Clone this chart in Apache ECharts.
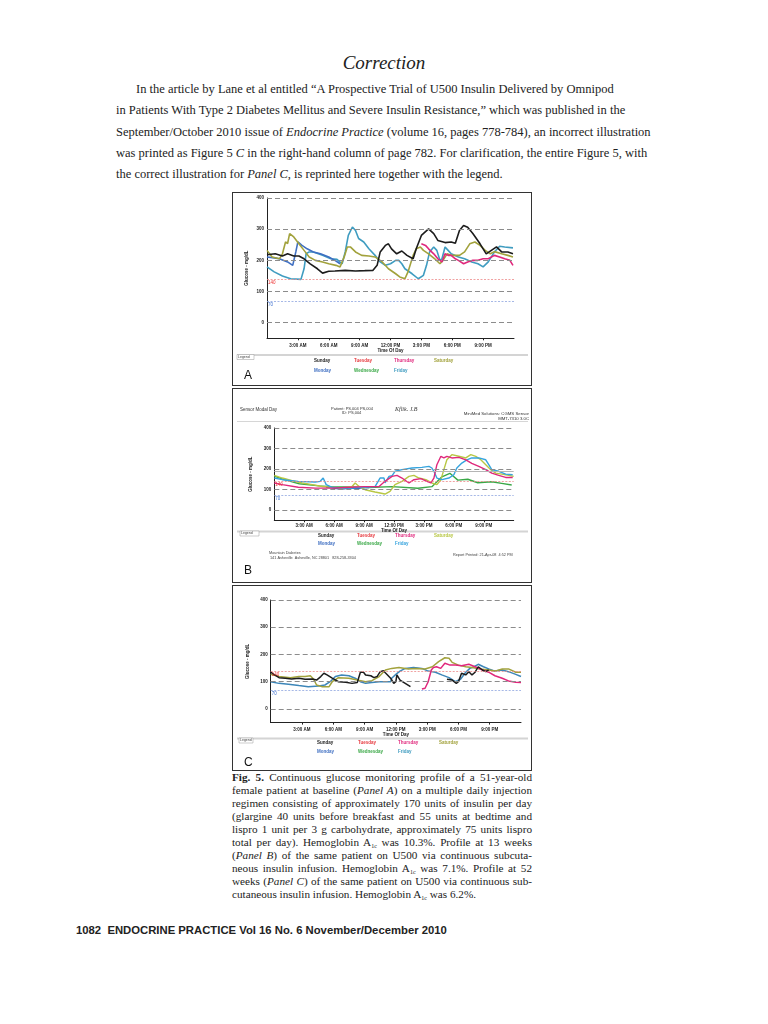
<!DOCTYPE html>
<html>
<head>
<meta charset="utf-8">
<script src="https://cdn.jsdelivr.net/npm/echarts@6/dist/echarts.min.js"></script>
<style>
  body { margin:0; width:768px; height:1024px; background:#fff; position:relative; overflow:hidden; color:#222; font-family:"Liberation Serif", serif; }
  .ln { position:absolute; white-space:nowrap; font-size:12.5px; line-height:16px; }
  .cap { position:absolute; left:232px; width:300px; font-size:11.2px; line-height:13px; white-space:nowrap; text-align:justify; text-align-last:justify; }
  .cap sub { font-size:6px; vertical-align:-2px; line-height:0; }
  .panel { position:absolute; left:232px; width:300px; box-sizing:border-box; border:1px solid #333; }
  .panel div.c { position:absolute; left:0; top:0; width:100%; height:100%; }
</style>
</head>
<body>

<div class="ln" style="left:0;width:768px;top:52px;text-align:center;font-size:19px;line-height:22px;font-style:italic;">Correction</div>

<div class="ln" style="left:136px;top:81px;">In the article by Lane et al entitled “A Prospective Trial of U500 Insulin Delivered by Omnipod</div>
<div class="ln" style="left:116px;top:102px;">in Patients With Type 2 Diabetes Mellitus and Severe Insulin Resistance,” which was published in the</div>
<div class="ln" style="left:116px;top:124px;">September/October 2010 issue of <i>Endocrine Practice</i> (volume 16, pages 778-784), an incorrect illustration</div>
<div class="ln" style="left:116px;top:145px;">was printed as Figure 5 <i>C</i> in the right-hand column of page 782. For clarification, the entire Figure 5, with</div>
<div class="ln" style="left:116px;top:166px;">the correct illustration for <i>Panel C</i>, is reprinted here together with the legend.</div>

<div class="panel" style="top:192px;height:194px;"><div class="c" id="panelA"></div></div>
<div class="panel" style="top:388px;height:195px;"><div class="c" id="panelB"></div></div>
<div class="panel" style="top:585px;height:186px;"><div class="c" id="panelC"></div></div>

<div class="cap" style="top:771px;"><b>Fig. 5.</b> Continuous glucose monitoring profile of a 51-year-old</div>
<div class="cap" style="top:784px;">female patient at baseline (<i>Panel A</i>) on a multiple daily injection</div>
<div class="cap" style="top:797px;">regimen consisting of approximately 170 units of insulin per day</div>
<div class="cap" style="top:810px;">(glargine 40 units before breakfast and 55 units at bedtime and</div>
<div class="cap" style="top:823px;">lispro 1 unit per 3 g carbohydrate, approximately 75 units lispro</div>
<div class="cap" style="top:836px;">total per day). Hemoglobin A<sub>1c</sub> was 10.3%. Profile at 13 weeks</div>
<div class="cap" style="top:849px;">(<i>Panel B</i>) of the same patient on U500 via continuous subcuta-</div>
<div class="cap" style="top:862px;">neous insulin infusion. Hemoglobin A<sub>1c</sub> was 7.1%. Profile at 52</div>
<div class="cap" style="top:875px;">weeks (<i>Panel C</i>) of the same patient on U500 via continuous sub-</div>
<div class="cap" style="top:888px;text-align:left;text-align-last:left;">cutaneous insulin infusion. Hemoglobin A<sub>1c</sub> was 6.2%.</div>

<div class="ln" style="left:76px;top:922px;font-family:'Liberation Sans',sans-serif;font-weight:bold;font-size:11.3px;">1082&nbsp; ENDOCRINE PRACTICE Vol 16 No. 6 November/December 2010</div>

<script>
// ---- data (hour of day, glucose mg/dL) ----
var tickHours = [3, 6, 9, 12, 15, 18, 21];
var tickLabels = ['3:00 AM', '6:00 AM', '9:00 AM', '12:00 PM', '3:00 PM', '6:00 PM', '9:00 PM'];
var gridValues = [0, 100, 200, 300, 400];
var targetHigh = 140;
var targetLow = 70;

var legendRow1 = ['Sunday', 'Tuesday', 'Thursday', 'Saturday'];
var legendRow2 = ['Monday', 'Wednesday', 'Friday'];
var dayColors = {
  Sunday: '#1c1c1c', Monday: '#3f6fc2', Tuesday: '#e63a3f', Wednesday: '#3aa847',
  Thursday: '#e0287c', Friday: '#3f9cc0', Saturday: '#a2a23c'
};

// panel A - baseline
var sunA = [[0,218],[0.8,221],[1.5,214],[2,221],[2.6,214],[3.1,214],[3.6,205],[4.2,189],[4.9,173],[5.4,159],[6,165],[6.6,166],[7.6,168],[8.6,166],[9.5,167],[10.3,168],[10.7,184],[11,227],[11.5,248],[11.8,253],[12.1,237],[12.6,221],[13.1,230],[13.6,216],[14.2,205],[14.5,237],[15,280],[15.7,301],[16.2,286],[16.6,264],[17.3,257],[17.9,259],[18.3,255],[18.7,296],[19.1,312],[19.5,306],[20,286],[20.7,253],[21.3,221],[21.8,232],[22.3,243],[22.8,227],[23.4,227],[23.9,221]];
var monA = [[0,211],[0.7,208],[1.2,205],[2,195],[2.5,184],[2.8,227],[3,259],[3.4,248],[3.9,237],[4.5,227],[5.2,221],[6,211],[6.6,200],[7.1,189]];
var thuA = [[15,253],[15.4,248],[15.7,237],[16.2,221],[16.6,205],[17,195],[17.3,221],[17.6,216],[17.9,216],[18.3,205],[18.6,200],[19.1,189],[19.5,195],[20,200],[20.5,200],[21,205],[21.5,205],[22.1,216],[22.6,211],[23.1,205],[23.6,200],[23.9,184]];
var friA = [[0,179],[0.7,163],[1.5,150],[2.3,141],[3.3,139],[3.6,173],[3.8,221],[4.1,227],[4.5,227],[5.4,216],[6.2,205],[6.8,203],[7.3,189],[7.6,227],[7.9,280],[8.3,307],[8.6,296],[8.9,270],[9.4,259],[9.9,237],[10.5,216],[11,195],[11.5,184],[12,189],[12.5,200],[12.8,200],[13.1,189],[13.4,173],[14.1,157],[14.7,141],[15.2,152],[15.5,184],[15.8,227],[16.2,243],[16.5,232],[16.8,200],[17,205],[17.3,243],[17.6,232],[17.9,221],[18.6,211],[19.2,205],[19.9,195],[20.5,189],[21,179],[21.5,195],[22.1,227],[22.6,245],[23.1,243],[23.9,240]];
var satA = [[0,232],[0.5,211],[1.2,205],[1.5,221],[1.8,259],[2,254],[2.2,286],[2.6,275],[3.1,253],[3.6,232],[4.1,211],[4.7,200],[5.4,195],[6,189],[6.7,184],[7.1,179],[7.5,211],[7.8,243],[8.1,243],[8.6,227],[9.2,216],[9.9,214],[10.5,211],[11.2,195],[11.8,173],[12.5,157],[12.9,147],[13.4,141],[13.7,163],[14.2,216],[14.5,237],[14.9,243],[15.2,232],[15.7,221],[16.3,205],[16.8,189],[17.1,200],[17.5,221],[17.9,216],[18.4,216],[18.7,216],[19.2,227],[19.7,253],[20.2,259],[20.7,248],[21.2,232],[21.7,221],[22.1,228],[22.8,221],[23.4,216],[23.9,211]];

// panel B - 13 weeks
var monB = [[5.2,112],[5.8,108],[6.4,104],[7,103],[7.6,108],[8.2,104],[8.9,110],[9.5,110]];
var wedB = [[0,165],[1,148],[2.5,128],[4.5,118],[6,112],[7.6,112],[9.5,110],[11.8,114],[14.4,106],[15.8,114],[16.8,162],[17.6,179],[18.4,146],[19.4,150],[20.4,133],[21.8,138],[22.8,130],[23.8,122]];
var thuB = [[0,132],[0.8,124],[2.4,111],[4.1,107],[5.8,107],[7.5,111],[9.1,114],[10.5,115],[11.1,140],[11.8,164],[12.3,169],[12.8,156],[13.5,132],[14,148],[14.7,153],[15.3,140],[15.7,132],[16,156],[16.3,221],[16.7,262],[17,254],[17.3,262],[17.8,254],[18.5,257],[19.2,245],[19.8,228],[20.5,213],[21.2,197],[21.8,180],[22.5,169],[23.2,159],[23.9,159]];
var friB = [[0,156],[0.8,148],[2.4,140],[4.1,137],[4.6,140],[4.9,156],[5.2,124],[5.8,111],[6.8,107],[7.8,107],[9.1,111],[10.1,114],[10.6,156],[11,156],[11.1,132],[11.5,164],[11.8,167],[12.1,189],[12.8,197],[13.8,205],[14.8,208],[15.5,213],[15.8,205],[16,189],[16.3,156],[16.8,148],[17.5,156],[18,172],[18.3,205],[18.8,229],[19.3,245],[19.8,254],[20.5,254],[21.2,245],[21.5,221],[21.8,197],[22.5,189],[23.2,175],[23.9,172]];
var satB = [[0,169],[0.8,156],[1.8,143],[2.8,132],[3.8,124],[4.8,115],[5.8,111],[6.8,107],[7.8,115],[8.1,132],[8.5,115],[9.1,99],[10.1,88],[11.1,78],[11.6,91],[12.1,124],[12.8,140],[13.5,164],[14,169],[14.5,156],[15.2,148],[15.8,132],[16.3,124],[16.7,148],[17,197],[17.3,245],[17.8,270],[18.5,262],[19.2,254],[19.7,270],[20.2,262],[20.7,245],[21.2,221],[21.7,197],[22.2,180],[22.8,175],[23.5,169],[24,164]];
var medianB = 190;

// panel C - 52 weeks
var sunC1 = [[0,135],[0.3,127],[0.8,115],[1.4,113],[2,110],[2.7,113],[3.3,109],[4,110],[4.4,106],[4.8,119],[5.1,131],[5.4,125],[5.9,113],[6.5,100],[7.2,98],[7.8,94],[8.3,97],[8.6,135],[8.9,135],[9.1,125],[9.6,122],[9.9,115],[10.2,119],[10.5,137],[10.8,140],[11.2,125],[11.5,113],[11.8,94],[12,100],[12.1,125],[12.4,106],[12.9,94],[13.4,82]];
var sunC2 = [[16.9,109],[17.4,106],[17.8,94],[18,100],[18.3,131],[18.7,125],[19,137],[19.3,125],[19.6,135],[19.9,155],[20.3,143],[20.6,137],[20.9,143]];
var monC = [[0,100],[0.8,94],[1.7,91],[2.7,86],[3.6,82],[4.6,84],[5.2,88],[5.7,100],[6.2,119],[6.8,125],[7.5,122],[8.1,113],[8.6,100],[9.1,94],[9.7,97],[10.4,100],[11,100],[11.5,100],[11.6,113],[12,127],[12.4,139],[12.9,149],[13.7,152],[14.5,149],[15.1,139],[15.8,135],[16.4,125],[17.1,115],[17.7,100],[18.2,109],[18.7,135],[19.1,149],[19.5,155],[19.9,164],[20.4,155],[20.9,147],[21.5,139],[22.2,143],[22.8,137],[23.5,127],[24,119]];
var thuC = [[14.5,73],[14.8,76],[15.1,100],[15.4,143],[15.6,152],[15.9,155],[16.3,149],[16.7,168],[17.2,161],[17.7,161],[18.3,159],[19,164],[19.6,155],[20.3,143],[20.9,135],[21.5,122],[22.2,113],[22.8,103],[23.5,98],[24,97]];
var satC = [[0,127],[0.8,119],[1.9,115],[2.7,119],[3.3,119],[3.8,122],[4.1,110],[4.4,88],[4.9,82],[5.6,82],[5.9,100],[6.5,115],[7.5,113],[8.3,106],[9.1,100],[9.7,104],[10.4,119],[11,143],[11.6,149],[12.3,152],[13.2,147],[13.9,149],[14.8,147],[15.5,155],[16.1,174],[16.7,188],[17.1,186],[17.4,171],[18,161],[18.7,155],[19.3,152],[20.1,147],[20.9,143],[21.5,139],[22.2,147],[22.8,147],[23.5,135],[24,135]];

var SANS = '"Liberation Sans", Arial, sans-serif';

function txt(x, y, text, size, color, extra) {
  var st = { text: text, fill: color || '#222', fontSize: size, fontFamily: SANS, fontWeight: 'bold', textVerticalAlign: 'middle', textAlign: 'left' };
  for (var k in (extra || {})) st[k] = extra[k];
  return { type: 'text', x: x, y: y, silent: true, style: st };
}

function buildPanel(id, p) {
  var chart = echarts.init(document.getElementById(id));

  // dashed grid lines and the 140 / 70 target lines, drawn under the traces
  var marks = gridValues.map(function (v) {
    return { yAxis: v, lineStyle: { color: '#8c8c8c', type: [5, 3], width: 1 }, label: { show: false } };
  });
  marks.push({ yAxis: targetHigh, lineStyle: { color: '#ec8a8a', type: [2, 1.5], width: 0.8 },
    label: { show: true, position: 'insideStartBottom', formatter: String(targetHigh), color: '#e33', fontSize: 4.5, fontFamily: SANS, distance: [1, 1] } });
  marks.push({ yAxis: targetLow, lineStyle: { color: '#8fa6e0', type: [2, 1.5], width: 0.8 },
    label: { show: true, position: 'insideStartBottom', formatter: String(targetLow), color: '#3a6fd0', fontSize: 4.5, fontFamily: SANS, distance: [1, 1] } });
  if (p.median) {
    marks.push({ yAxis: p.median, lineStyle: { color: '#b5b5b5', type: 'solid', width: 1 }, label: { show: false } });
  }

  var series = [{
    type: 'line', data: [], z: 1, silent: true,
    markLine: { silent: true, symbol: 'none', animation: false, data: marks }
  }];
  p.lines.forEach(function (l) {
    series.push({
      name: l.day, type: 'line', data: l.data, showSymbol: false, z: 3,
      lineStyle: { color: l.color || dayColors[l.day], width: p.lw }
    });
  });

  // legend block under the plot
  var g = [];
  g.push({ type: 'rect', silent: true, shape: { x: 4, y: p.bar, width: 291, height: 2 }, style: { fill: '#d4d4d4' } });
  g.push({ type: 'rect', silent: true, shape: { x: p.box[0], y: p.bar + 0.5, width: p.box[1], height: 5 }, style: { fill: '#fff', stroke: '#999', lineWidth: 0.5 } });
  g.push(txt(p.box[0] + 1, p.bar + 3, 'Legend', 3.5, '#444', { fontWeight: 'normal' }));
  [legendRow1, legendRow2].forEach(function (row, r) {
    row.forEach(function (name, i) {
      g.push(txt(p.cols[i], p.rows[r], name, 4.5, p.legendColors && p.legendColors[name] || dayColors[name]));
    });
  });
  g.push(txt(11, p.letterY, p.letter, 12, '#111', { fontWeight: 'normal' }));
  (p.extra || []).forEach(function (e) { g.push(e); });

  var option = {
    animation: false,
    grid: { left: p.grid[0], top: p.grid[1], width: p.grid[2], height: p.grid[3] },
    xAxis: {
      type: 'value', min: 0, max: 24, interval: 3,
      name: 'Time Of Day', nameLocation: 'middle', nameGap: p.nameGapX, nameMoveOverlap: false,
      nameTextStyle: { fontSize: 4.5, fontWeight: 'bold', fontFamily: SANS, color: '#222' },
      axisLine: { onZero: false, lineStyle: { color: '#222', width: 1 } },
      axisTick: { length: 2, lineStyle: { color: '#222' } },
      splitLine: { show: false },
      axisLabel: {
        margin: p.labelGapX, fontSize: 4.5, fontWeight: 'bold', fontFamily: SANS, color: '#222',
        showMinLabel: false, showMaxLabel: false,
        formatter: function (v) { var i = tickHours.indexOf(v); return i < 0 ? '' : tickLabels[i]; }
      }
    },
    yAxis: {
      type: 'value', min: -50, max: 400, interval: 50,
      name: 'Glucose - mg/dL', nameLocation: 'middle', nameGap: p.nameGapY, nameMoveOverlap: false,
      nameTextStyle: { fontSize: 4.5, fontWeight: 'bold', fontFamily: SANS, color: '#222' },
      axisLine: { show: true, onZero: false, lineStyle: { color: '#222', width: 1 } },
      axisTick: { show: false },
      splitLine: { show: false },
      axisLabel: {
        margin: 3, fontSize: 4.5, fontWeight: 'bold', fontFamily: SANS, color: '#222',
        formatter: function (v) { return gridValues.indexOf(v) < 0 ? '' : String(v); }
      }
    },
    graphic: g,
    series: series
  };
  chart.setOption(option);
}

buildPanel('panelA', {
  grid: [34, 5, 247, 140.3], nameGapX: 9.5, labelGapX: 4.5, nameGapY: 18, lw: 1.6,
  lines: [
    { day: 'Friday', data: friA }, { day: 'Monday', data: monA }, { day: 'Saturday', data: satA },
    { day: 'Thursday', data: thuA }, { day: 'Sunday', data: sunA }
  ],
  bar: 161, box: [4, 17], cols: [81, 121, 161, 201], rows: [168, 178], letter: 'A', letterY: 183
});

buildPanel('panelB', {
  grid: [41.3, 39, 239.4, 92.3], nameGapX: 7.5, labelGapX: 2.5, nameGapY: 21, lw: 1.4, median: medianB,
  lines: [
    { day: 'Wednesday', data: wedB }, { day: 'Monday', data: monB, color: '#2f4fb0' },
    { day: 'Saturday', data: satB, color: '#b8c744' }, { day: 'Friday', data: friB, color: '#36a4de' },
    { day: 'Thursday', data: thuB }
  ],
  legendColors: { Saturday: '#b8c744', Friday: '#36a4de' },
  bar: 141.5, box: [7, 19], cols: [85, 124, 162, 201], rows: [146.7, 154.3], letter: 'B', letterY: 181.5,
  extra: [
    { type: 'line', silent: true, shape: { x1: 4, y1: 32.5, x2: 295, y2: 32.5 }, style: { stroke: '#bbb', lineWidth: 0.6 } },
    txt(7, 20.5, 'Sensor Modal Day', 4.5, '#333', { fontWeight: 'normal' }),
    txt(98, 19.5, 'Patient: PS,004 PS,004', 4, '#333', { fontWeight: 'normal' }),
    txt(109, 24, 'ID: PS,004', 4, '#333', { fontWeight: 'normal' }),
    txt(162, 20.5, 'Kflik. J.B', 6, '#333', { fontWeight: 'normal', fontStyle: 'italic', fontFamily: '"Liberation Serif", serif' }),
    txt(296, 25, 'MiniMed Solutions: CGMS Sensor', 4.3, '#333', { fontWeight: 'normal', textAlign: 'right' }),
    txt(296, 29.8, 'MMT-7310 3.0C', 4.3, '#333', { fontWeight: 'normal', textAlign: 'right' }),
    txt(36, 164, 'Mountain Diabetes', 3.8, '#444', { fontWeight: 'normal' }),
    txt(37, 168.7, '141 Asheville  Asheville, NC 28801   828-258-3304', 3.8, '#444', { fontWeight: 'normal' }),
    txt(220, 165.5, 'Report Printed: 21-Apr-08  4:52 PM', 3.8, '#444', { fontWeight: 'normal' })
  ]
});

buildPanel('panelC', {
  grid: [37.7, 14, 250.3, 122.6], nameGapX: 10, labelGapX: 5, nameGapY: 20, lw: 1.5,
  lines: [
    { day: 'Monday', data: monC, color: '#3d86b8' }, { day: 'Saturday', data: satC },
    { day: 'Thursday', data: thuC },
    { day: 'Sunday', data: sunC1.concat([[15, null]], sunC2) }
  ],
  bar: 151.5, box: [6, 14], cols: [84, 125, 165, 206], rows: [156.7, 166], letter: 'C', letterY: 177
});
</script>
</body>
</html>
